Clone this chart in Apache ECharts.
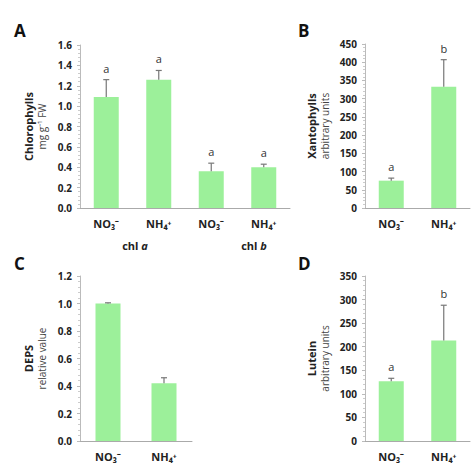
<!DOCTYPE html><html><head><meta charset="utf-8"><script src="https://cdn.jsdelivr.net/npm/echarts@6/dist/echarts.min.js"></script>
<style>body{margin:0}#c{width:474px;height:474px}</style></head><body><div id="c"></div><script>
const catA=['NO₃⁻','NH₄⁺','NO₃⁻','NH₄⁺'];
const valA=[1.09,1.26,0.36,0.40], errA=[1.26,1.35,0.44,0.43], letA=['a','a','a','a'];
const catB=['NO₃⁻','NH₄⁺'];
const valB=[75,333], errB=[82,407], letB=['a','b'];
const valC=[1.0,0.42], errC=[1.005,0.46];
const valD=[127,213], errD=[133,288], letD=['a','b'];
const green='#9cf09a', F='"Open Sans",Arial,sans-serif';
const grids=[{left:80,width:210,top:45,height:163},{left:365,width:105,top:44,height:164},{left:80,width:112,top:276,height:165},{left:365,width:105,top:276,height:165}];
function xa(i,cats){return {type:'category',gridIndex:i,data:cats,axisTick:{show:false},axisLine:{lineStyle:{color:'#aaa'}},axisLabel:{fontFamily:F,fontWeight:'bold',fontSize:11,color:'#222',margin:10}};}
function ya(i,max,iv,fmt,t1,t2,gap){return {type:'value',gridIndex:i,min:0,max:max,interval:iv,splitLine:{show:false},
 axisLine:{show:true,lineStyle:{color:'#bbb'}},axisTick:{show:true,length:3,lineStyle:{color:'#bbb'}},minorTick:{show:true,splitNumber:5,length:2,lineStyle:{color:'#ccc'}},
 axisLabel:{fontFamily:F,fontWeight:'bold',fontSize:10,color:'#222',formatter:fmt},
 name:'{b|'+t1+'}\n{n|'+t2+'}',nameLocation:'middle',nameRotate:90,nameGap:gap,nameTextStyle:{rich:{b:{fontFamily:F,fontWeight:'bold',fontSize:11,color:'#222',lineHeight:14},n:{fontFamily:F,fontSize:10,color:'#444',lineHeight:13}}}};}
function bar(i,v){return {type:'bar',xAxisIndex:i,yAxisIndex:i,data:v,barWidth:25,itemStyle:{color:green},silent:true};}
function err(i,v,e,l){return {type:'custom',xAxisIndex:i,yAxisIndex:i,data:v.map((d,k)=>[k,d,e[k],l?l[k]:'']),z:5,
 renderItem:(p,api)=>{const b=api.coord([api.value(0),api.value(1)]),t=api.coord([api.value(0),api.value(2)]);const x=b[0];
 const ch=[{type:'line',shape:{x1:x,y1:b[1],x2:x,y2:t[1]},style:{stroke:'#777',lineWidth:1.2}},{type:'line',shape:{x1:x-3,y1:t[1],x2:x+3,y2:t[1]},style:{stroke:'#777',lineWidth:1.2}}];
 const lt=api.value(3); if(lt)ch.push({type:'text',style:{text:lt,x:x,y:t[1]-6,align:'center',verticalAlign:'bottom',fontFamily:F,fontSize:11,fill:'#333'}});
 return {type:'group',children:ch};}};}
const f1=v=>v.toFixed(1), f0=v=>String(v);
const ch=echarts.init(document.getElementById('c'),null,{renderer:'svg'});
ch.setOption({animation:false,backgroundColor:'#fff',grid:grids,
 xAxis:[xa(0,catA),xa(1,catB),xa(2,catB),xa(3,catB)],
 yAxis:[ya(0,1.6,0.2,f1,'Chlorophylls','mg g⁻¹ FW',32),ya(1,450,50,f0,'Xantophylls','arbitrary units',34),ya(2,1.2,0.2,f1,'DEPS','relative value',32),ya(3,350,50,f0,'Lutein','arbitrary units',34)],
 series:[bar(0,valA),err(0,valA,errA,letA),bar(1,valB),err(1,valB,errB,letB),bar(2,valC),err(2,valC,errC,null),bar(3,valD),err(3,valD,errD,letD)],
 graphic:[
  {type:'text',left:14,top:22,style:{text:'A',fontFamily:F,fontWeight:'bold',fontSize:17,fill:'#111'}},
  {type:'text',left:298,top:22,style:{text:'B',fontFamily:F,fontWeight:'bold',fontSize:17,fill:'#111'}},
  {type:'text',left:14,top:255,style:{text:'C',fontFamily:F,fontWeight:'bold',fontSize:17,fill:'#111'}},
  {type:'text',left:298,top:255,style:{text:'D',fontFamily:F,fontWeight:'bold',fontSize:17,fill:'#111'}},
  {type:'text',x:135,y:240,style:{text:'{b|chl }{i|a}',align:'center',rich:{b:{fontFamily:F,fontWeight:'bold',fontSize:11,fill:'#222'},i:{fontFamily:F,fontWeight:'bold',fontStyle:'italic',fontSize:11,fill:'#222'}}}},
  {type:'text',x:254,y:240,style:{text:'{b|chl }{i|b}',align:'center',rich:{b:{fontFamily:F,fontWeight:'bold',fontSize:11,fill:'#222'},i:{fontFamily:F,fontWeight:'bold',fontStyle:'italic',fontSize:11,fill:'#222'}}}}
 ]});
</script></body></html>
